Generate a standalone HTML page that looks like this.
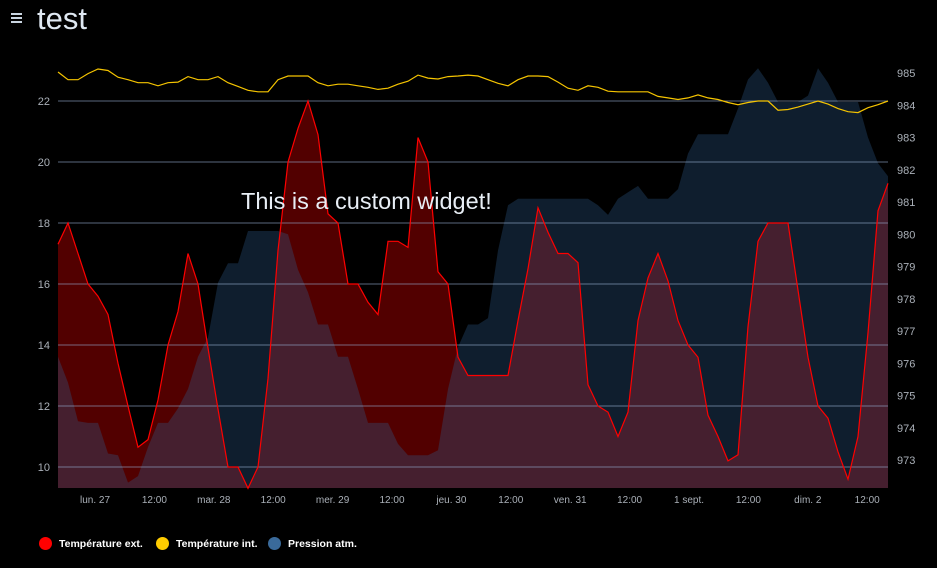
<!DOCTYPE html>
<html><head><meta charset="utf-8">
<style>
html,body{margin:0;padding:0;background:#000;width:937px;height:568px;overflow:hidden;font-family:"Liberation Sans",sans-serif;}
#title{position:absolute;left:37px;top:1px;font-size:31px;color:#dfe8f2;}
#menu{position:absolute;left:11px;top:13px;width:11px;}
#menu div{height:2px;background:#c9d4e0;margin-bottom:2px;}
#widget{position:absolute;left:241px;top:188px;font-size:23.5px;color:#e8eef5;}
.leg{position:absolute;top:537px;font-size:10.5px;font-weight:bold;color:#fff;display:flex;align-items:center;}
.dot{width:13px;height:13px;border-radius:50%;margin-right:7px;display:inline-block;}
</style></head><body>
<div id="menu"><div></div><div></div><div></div></div>
<div id="title">test</div>
<svg id="chart" width="937" height="568" style="position:absolute;left:0;top:0"></svg>
<div id="widget">This is a custom widget!</div>
<div class="leg" style="left:39px"><span class="dot" style="background:#f00"></span>Température ext.</div>
<div class="leg" style="left:156px"><span class="dot" style="background:#fc0"></span>Température int.</div>
<div class="leg" style="left:268px"><span class="dot" style="background:#3a6a9a"></span>Pression atm.</div>
<script>
const tempExt=[17.3,18,17,16,15.6,15,13.4,12,10.65,10.9,12.2,14,15.1,17,16,13.9,11.9,10,10,9.3,10,12.9,17.1,20,21.1,22,20.9,18.3,18,16,16,15.4,15,17.4,17.4,17.2,20.8,20,16.4,16,13.6,13,13,13,13,13,14.8,16.5,18.5,17.7,17,17,16.7,12.7,12,11.8,11,11.8,14.8,16.2,17,16.1,14.8,14,13.6,11.7,11,10.2,10.4,14.6,17.4,18,18,18,15.8,13.6,12,11.6,10.5,9.6,11,14.4,18.4,19.3];
const tempInt=[22.95,22.7,22.7,22.9,23.05,23.0,22.78,22.7,22.6,22.6,22.5,22.6,22.62,22.8,22.7,22.7,22.8,22.6,22.48,22.35,22.3,22.3,22.7,22.82,22.82,22.82,22.6,22.5,22.55,22.55,22.5,22.45,22.38,22.42,22.55,22.65,22.85,22.75,22.72,22.8,22.82,22.85,22.82,22.7,22.58,22.5,22.7,22.82,22.82,22.8,22.62,22.42,22.35,22.5,22.45,22.32,22.3,22.3,22.3,22.3,22.15,22.1,22.05,22.1,22.2,22.1,22.05,21.95,21.88,21.95,22.0,22.0,21.7,21.72,21.8,21.9,22.0,21.9,21.75,21.65,21.62,21.78,21.88,22.0];
const pressure=[976.2,975.4,974.2,974.15,974.15,973.2,973.15,972.3,972.5,973.4,974.15,974.15,974.6,975.2,976.2,976.8,978.5,979.1,979.1,980.1,980.1,980.1,980.1,980.0,978.9,978.2,977.2,977.2,976.2,976.2,975.2,974.15,974.15,974.15,973.5,973.15,973.15,973.15,973.3,975.2,976.5,977.2,977.2,977.4,979.5,980.9,981.1,981.1,981.1,981.1,981.1,981.1,981.1,981.1,980.9,980.6,981.1,981.3,981.5,981.1,981.1,981.1,981.4,982.5,983.1,983.1,983.1,983.1,983.9,984.8,985.15,984.7,984.1,984.1,984.1,984.3,985.15,984.7,984.1,984.1,984.1,983,982.2,981.8];
const leftTicks=[10,12,14,16,18,20,22];
const rightTicks=[973,974,975,976,977,978,979,980,981,982,983,984,985];
const xLabels=["lun. 27","12:00","mar. 28","12:00","mer. 29","12:00","jeu. 30","12:00","ven. 31","12:00","1 sept.","12:00","dim. 2","12:00"];
const X0=58,X1=888,YB=488;
function xIdx(i,n){return X0+i*(X1-X0)/(n-1);}
function yL(v){return 101+(22-v)*30.5;}
function yR(v){return 73+(985-v)*32.25;}
function xLab(i){return 95+i*59.4;}
const NS="http://www.w3.org/2000/svg";
const svg=document.getElementById('chart');
function mk(t,a){const e=document.createElementNS(NS,t);for(const k in a)e.setAttribute(k,a[k]);return e;}
function pts(arr,fy){return arr.map((v,i)=>xIdx(i,arr.length).toFixed(1)+','+fy(v).toFixed(1));}
function area(arr,fy){const p=pts(arr,fy);return 'M'+X0+','+YB+' L'+p.join(' L')+' L'+X1+','+YB+' Z';}
const defs=mk('defs',{});
const cp=mk('clipPath',{id:'redclip'});
cp.appendChild(mk('path',{d:area(tempExt,yL)}));
defs.appendChild(cp);
svg.appendChild(defs);
const pa=mk('path',{d:area(pressure,yR),fill:'#0f1e2e'});


svg.appendChild(pa);
const ra=mk('path',{d:area(tempExt,yL),fill:'#520000'});


svg.appendChild(ra);
const ov=mk('path',{d:area(pressure,yR),fill:'#451f2f','clip-path':'url(#redclip)'});


svg.appendChild(ov);
leftTicks.forEach(v=>{
  const g=mk('line',{x1:X0,x2:X1,y1:yL(v),y2:yL(v),stroke:'rgba(150,175,210,0.6)','stroke-width':1});
  
  
  svg.appendChild(g);
  const t=mk('text',{x:50,y:yL(v)+4,'text-anchor':'end','font-size':11,fill:'#aab0b8','font-family':'Liberation Sans, sans-serif'});
  t.textContent=v;
  
  
  svg.appendChild(t);
});
rightTicks.forEach(v=>{
  const t=mk('text',{x:897,y:yR(v)+4,'font-size':11,fill:'#aab0b8','font-family':'Liberation Sans, sans-serif'});
  t.textContent=v;
  
  
  svg.appendChild(t);
});
xLabels.forEach((l,i)=>{
  const t=mk('text',{x:xLab(i),y:503,'text-anchor':'middle','font-size':10,fill:'#aab0b8','font-family':'Liberation Sans, sans-serif'});
  t.textContent=l;
  
  
  svg.appendChild(t);
});
const rl=mk('polyline',{points:pts(tempExt,yL).join(' '),fill:'none',stroke:'#ff0000','stroke-width':1.2});


svg.appendChild(rl);
const yl=mk('polyline',{points:pts(tempInt,yL).join(' '),fill:'none',stroke:'#f5c400','stroke-width':1.2});


svg.appendChild(yl);
</script>
</body></html>
